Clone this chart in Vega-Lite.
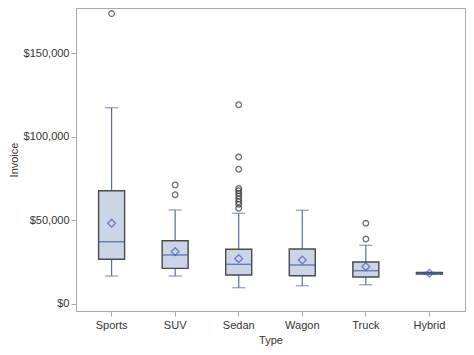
{
  "$schema": "https://vega.github.io/schema/vega-lite/v6.json",
  "width": 389,
  "height": 303,
  "autosize": {"type": "none"},
  "padding": {"left": 76, "top": 8, "right": 9, "bottom": 44},
  "background": "white",
  "config": {
    "view": {"stroke": "#a8a8a8", "strokeWidth": 1},
    "font": "Liberation Sans",
    "axis": {
      "labelFont": "Liberation Sans", "titleFont": "Liberation Sans",
      "labelFontSize": 11, "titleFontSize": 11, "labelColor": "#333333", "titleColor": "#333333",
      "titleFontWeight": "normal", "domainColor": "#a8a8a8", "tickColor": "#a8a8a8", "grid": false,
      "tickSize": 5
    }
  },
  "datasets": {
    "boxes": [
      {"Type": "Sports", "lower": 16700, "q1": 26700, "median": 37200, "q3": 67700, "upper": 117300, "mean": 48200},
      {"Type": "SUV", "lower": 16700, "q1": 21300, "median": 29300, "q3": 37800, "upper": 56200, "mean": 31300},
      {"Type": "Sedan", "lower": 9700, "q1": 17300, "median": 23700, "q3": 32700, "upper": 54200, "mean": 27100},
      {"Type": "Wagon", "lower": 10900, "q1": 16900, "median": 23300, "q3": 32900, "upper": 56000, "mean": 26300},
      {"Type": "Truck", "lower": 11500, "q1": 16100, "median": 19900, "q3": 25100, "upper": 35100, "mean": 22300},
      {"Type": "Hybrid", "lower": 17900, "q1": 17900, "median": 18450, "q3": 18900, "upper": 18900, "mean": 18400}
    ],
    "outliers": [
      {"Type": "Sports", "Invoice": 173560},
      {"Type": "SUV", "Invoice": 71100},
      {"Type": "SUV", "Invoice": 65300},
      {"Type": "Sedan", "Invoice": 119100},
      {"Type": "Sedan", "Invoice": 87800},
      {"Type": "Sedan", "Invoice": 80500},
      {"Type": "Sedan", "Invoice": 69000},
      {"Type": "Sedan", "Invoice": 67700},
      {"Type": "Sedan", "Invoice": 66200},
      {"Type": "Sedan", "Invoice": 64500},
      {"Type": "Sedan", "Invoice": 62700},
      {"Type": "Sedan", "Invoice": 61100},
      {"Type": "Sedan", "Invoice": 59600},
      {"Type": "Sedan", "Invoice": 57200},
      {"Type": "Truck", "Invoice": 48200},
      {"Type": "Truck", "Invoice": 38800}
    ]
  },
  "encoding": {
    "x": {
      "field": "Type", "type": "nominal",
      "sort": ["Sports", "SUV", "Sedan", "Wagon", "Truck", "Hybrid"],
      "scale": {"paddingInner": 0, "paddingOuter": 0.06},
      "axis": {"labelAngle": 0, "title": "Type", "labelPadding": 3, "titlePadding": 4}
    }
  },
  "layer": [
    {
      "data": {"name": "boxes"},
      "mark": {"type": "rule", "color": "#5b6f9b", "strokeWidth": 1.2},
      "encoding": {
        "y": {"field": "lower", "type": "quantitative",
          "scale": {"domain": [-4200, 176900], "nice": false, "zero": false},
          "axis": {"values": [0, 50000, 100000, 150000], "format": "$,.0f", "title": "Invoice", "titlePadding": 4}},
        "y2": {"field": "upper"}
      }
    },
    {
      "data": {"name": "boxes"},
      "mark": {"type": "tick", "color": "#5b6f9b", "size": 13, "thickness": 1.2},
      "encoding": {"y": {"field": "lower", "type": "quantitative"}}
    },
    {
      "data": {"name": "boxes"},
      "mark": {"type": "tick", "color": "#5b6f9b", "size": 13, "thickness": 1.2},
      "encoding": {"y": {"field": "upper", "type": "quantitative"}}
    },
    {
      "data": {"name": "boxes"},
      "mark": {"type": "bar", "size": 26, "fill": "#cbd5e6", "stroke": "#4a4a4a", "strokeWidth": 1.4},
      "encoding": {
        "y": {"field": "q1", "type": "quantitative"},
        "y2": {"field": "q3"}
      }
    },
    {
      "data": {"name": "boxes"},
      "mark": {"type": "tick", "color": "#3d5aa8", "size": 26, "thickness": 1.5},
      "encoding": {"y": {"field": "median", "type": "quantitative"}}
    },
    {
      "data": {"name": "boxes"},
      "mark": {"type": "point", "shape": "diamond", "filled": false, "color": "#3d55b5", "size": 60, "strokeWidth": 1.3},
      "encoding": {"y": {"field": "mean", "type": "quantitative"}}
    },
    {
      "data": {"name": "outliers"},
      "mark": {"type": "point", "shape": "circle", "filled": false, "color": "#333333", "size": 32, "strokeWidth": 1.3},
      "encoding": {"y": {"field": "Invoice", "type": "quantitative"}}
    }
  ]
}
